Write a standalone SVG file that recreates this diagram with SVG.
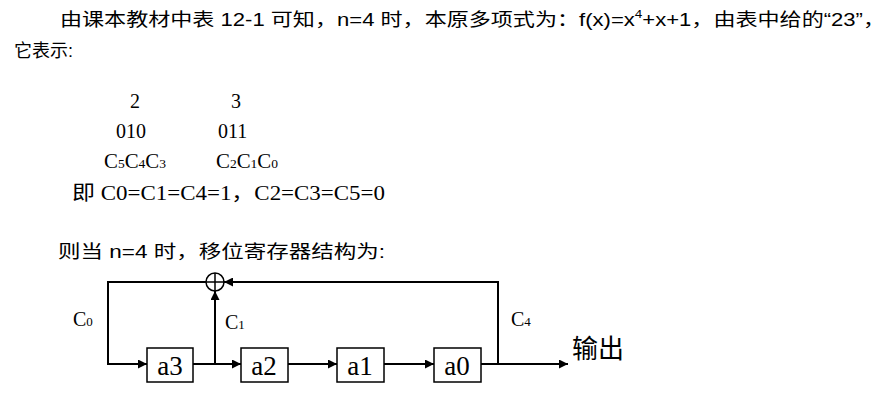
<svg xmlns="http://www.w3.org/2000/svg" width="895" height="400" viewBox="0 0 895 400">
<defs><marker id="ar" viewBox="0 0 10 10" refX="10" refY="5" markerWidth="9" markerHeight="9" markerUnits="userSpaceOnUse" orient="auto"><path d="M0,0L10,5L0,10z" fill="#000"/></marker></defs>
<style>
.s{font-family:"Liberation Sans","Noto Sans CJK SC",sans-serif;font-size:18px;fill:#000}
.r{font-family:"Liberation Serif","Noto Sans CJK SC",serif;font-size:20px;fill:#000}
.n{font-family:"Liberation Serif","Noto Sans CJK SC",serif;font-size:27px;fill:#000;text-anchor:middle}
.b{fill:#fff;stroke:#000;stroke-width:1.5}
.l{fill:none;stroke:#000;stroke-width:2}
</style>
<rect width="895" height="400" fill="#fff"/>
<text class="s" x="60" y="26" textLength="825" lengthAdjust="spacingAndGlyphs">由课本教材中表 12-1 可知，n=4 时，本原多项式为：f(x)=x<tspan dy="-8" style="font-size:11px">4</tspan><tspan dy="8">+x+1，由表中给的“23”，</tspan></text>
<text class="s" x="14" y="57">它表示:</text>
<text class="r" x="130" y="108">2</text>
<text class="r" x="231" y="108">3</text>
<text class="r" x="116" y="138">010</text>
<text class="r" x="218" y="138">011</text>
<text class="r" x="104" y="168" textLength="62" lengthAdjust="spacingAndGlyphs">C<tspan style="font-size:13px">5</tspan>C<tspan style="font-size:13px">4</tspan>C<tspan style="font-size:13px">3</tspan></text>
<text class="r" x="216" y="168" textLength="62" lengthAdjust="spacingAndGlyphs">C<tspan style="font-size:13px">2</tspan>C<tspan style="font-size:13px">1</tspan>C<tspan style="font-size:13px">0</tspan></text>
<text class="r" x="72" y="200" textLength="313" lengthAdjust="spacingAndGlyphs">即 C0=C1=C4=1，C2=C3=C5=0</text>
<text class="s" x="58" y="258" textLength="327" lengthAdjust="spacingAndGlyphs">则当 n=4 时，移位寄存器结构为:</text>
<g id="connectors">
<path class="l" d="M206,282H108V364H147" marker-end="url(#ar)"/>
<path class="l" d="M193,364H241" marker-end="url(#ar)"/>
<path class="l" d="M215,364V291" marker-end="url(#ar)"/>
<path class="l" d="M288,364H337" marker-end="url(#ar)"/>
<path class="l" d="M384,364H434" marker-end="url(#ar)"/>
<path class="l" d="M481,364H568" marker-end="url(#ar)"/>
<path class="l" d="M498,364V282H224" marker-end="url(#ar)"/>
</g>
<g id="xor"><circle cx="215" cy="282" r="9" class="b"/><path d="M206,282H224M215,273V291" stroke="#000" stroke-width="1.5"/></g>
<g id="a3"><rect class="b" x="147" y="348" width="46" height="34"/><text class="n" x="170" y="375">a3</text></g>
<g id="a2"><rect class="b" x="241" y="348" width="47" height="34"/><text class="n" x="264" y="375">a2</text></g>
<g id="a1"><rect class="b" x="337" y="348" width="47" height="34"/><text class="n" x="360" y="375">a1</text></g>
<g id="a0"><rect class="b" x="434" y="348" width="47" height="34"/><text class="n" x="457" y="375">a0</text></g>
<text class="r" x="73" y="326">C<tspan style="font-size:13px">0</tspan></text>
<text class="r" x="225" y="329">C<tspan style="font-size:13px">1</tspan></text>
<text class="r" x="511" y="326">C<tspan style="font-size:13px">4</tspan></text>
<text class="s" x="572" y="358" style="font-size:26px">输出</text>
</svg>
